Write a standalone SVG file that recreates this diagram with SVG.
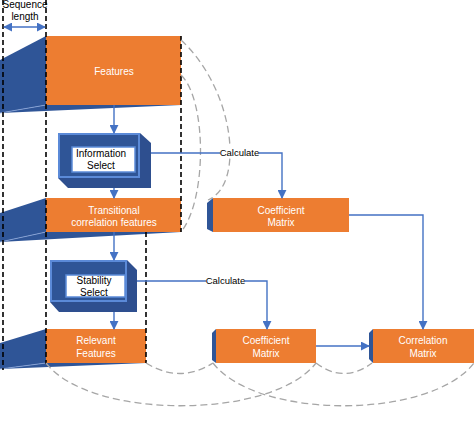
<svg xmlns="http://www.w3.org/2000/svg" width="474" height="422" viewBox="0 0 474 422">
<defs>
<style>
.box{fill:#ED7D31}
.side{fill:#2F5597}
.edge{stroke:#8FAADC;stroke-width:0.8;fill:none}
.bevel{fill:#2F5597}
.wt{fill:#fff;font-family:"Liberation Sans",Arial,sans-serif;font-size:10px;text-anchor:middle}
.bt{fill:#000;font-family:"Liberation Sans",Arial,sans-serif;font-size:10px;text-anchor:middle}
.ct{fill:#000;font-family:"Liberation Sans",Arial,sans-serif;font-size:9.5px;text-anchor:middle}
.guide{stroke:#000;stroke-width:1.6;stroke-dasharray:5 3;fill:none}
.arc{stroke:#A6A6A6;stroke-width:1.3;stroke-dasharray:7 4;fill:none}
.link{stroke:#4472C4;stroke-width:1.4;fill:none}
.frame{fill:#2E4F8F}
.front{fill:#2F5597;stroke:#5B8AD8;stroke-width:2}
.hole{fill:#fff;stroke:#5B8AD8;stroke-width:1.5}
</style>
<marker id="ah" viewBox="0 0 10 10" refX="9" refY="5" markerWidth="6" markerHeight="6" markerUnits="userSpaceOnUse" orient="auto">
<path d="M0,0 L10,5 L0,10 z" fill="#4472C4"/>
</marker>
<marker id="ah2" viewBox="0 0 10 10" refX="9" refY="5" markerWidth="9" markerHeight="9" markerUnits="userSpaceOnUse" orient="auto-start-reverse">
<path d="M0,0 L10,5 L0,10 z" fill="#4472C4"/>
</marker>
</defs>
<rect width="474" height="422" fill="#fff"/>

<g id="features">
<polygon class="side" points="0,60 46,36 46,105 0,113"/>
<polygon class="side" points="0,113 46,105 181,105"/>
<line class="edge" x1="0" y1="113" x2="46" y2="105"/>
<rect class="box" x="46" y="36" width="135" height="69"/>
<text class="wt" x="114" y="74.5">Features</text>
</g>

<g id="transitional">
<polygon class="side" points="0,213 46,198 46,232 0,242"/>
<polygon class="side" points="0,242 46,232 181,232"/>
<line class="edge" x1="0" y1="242" x2="46" y2="232"/>
<rect class="box" x="46" y="198" width="135" height="34"/>
<text class="wt" x="114" y="213.5">Transitional</text>
<text class="wt" x="114" y="226">correlation features</text>
</g>

<g id="relevant">
<polygon class="side" points="0,343 46,329 46,363 0,369"/>
<polygon class="side" points="0,369 46,363 146,363"/>
<line class="edge" x1="0" y1="369" x2="46" y2="363"/>
<rect class="box" x="46" y="329" width="100" height="34"/>
<text class="wt" x="96" y="344">Relevant</text>
<text class="wt" x="96" y="356.5">Features</text>
</g>

<g id="info-select">
<polygon class="frame" points="58,133 140,133 151,143 151,188 68,188 58,178"/>
<rect class="front" x="59" y="134" width="80" height="43"/>
<rect class="hole" x="72" y="147" width="63" height="25"/>
<text class="bt" x="101" y="157">Information</text>
<text class="bt" x="101" y="169">Select</text>
</g>

<g id="stability-select">
<polygon class="frame" points="50,260 127,260 137,270 137,312 59,312 50,302"/>
<rect class="front" x="51" y="261" width="75" height="40"/>
<rect class="hole" x="66" y="275" width="59" height="22"/>
<text class="bt" x="94" y="284">Stability</text>
<text class="bt" x="94" y="296">Select</text>
</g>

<g id="coef-top">
<polygon class="bevel" fill="#4472C4" points="207,203 213,198 213,232 207,229"/>
<rect class="box" x="213" y="198" width="136" height="34"/>
<text class="wt" x="281" y="213.5">Coefficient</text>
<text class="wt" x="281" y="226">Matrix</text>
</g>

<g id="coef-bottom">
<polygon class="bevel" points="212,333 216,329 216,363 212,360"/>
<rect class="box" x="216" y="329" width="100" height="34"/>
<text class="wt" x="266" y="344">Coefficient</text>
<text class="wt" x="266" y="356.5">Matrix</text>
</g>

<g id="correlation">
<polygon class="bevel" points="369,333 373,329 373,363 369,359"/>
<rect class="box" x="373" y="329" width="101" height="34"/>
<text class="wt" x="423" y="344">Correlation</text>
<text class="wt" x="423" y="356.5">Matrix</text>
</g>

<g id="guides">
<line class="guide" x1="3" y1="0" x2="3" y2="370"/>
<line class="guide" x1="46" y1="0" x2="46" y2="364"/>
<line class="guide" x1="181" y1="36" x2="181" y2="232"/>
<line class="guide" x1="146" y1="232" x2="146" y2="363"/>
</g>

<g id="sequence-length">
<text class="bt" x="25" y="8">Sequence</text>
<text class="bt" x="25" y="19.5">length</text>
<line class="link" x1="4" y1="27" x2="45" y2="27" marker-start="url(#ah2)" marker-end="url(#ah2)"/>
</g>

<g id="connectors">
<path class="arc" d="M181,40 C235,90 245,185 208,200"/>
<path class="arc" d="M181,75 C207,100 207,200 181,232"/>
<path class="arc" d="M146,363 Q180,384 213,363"/>
<path class="arc" d="M316,363 Q344,384 372,363"/>
<path class="arc" d="M46,363 C90,420 272,420 316,363"/>
<path class="arc" d="M213,363 C257,420 430,420 474,363"/>

<line class="link" x1="114" y1="105" x2="114" y2="133" marker-end="url(#ah2)"/>
<line class="link" x1="114" y1="188" x2="114" y2="198" marker-end="url(#ah2)"/>
<line class="link" x1="114" y1="232" x2="114" y2="260" marker-end="url(#ah2)"/>
<line class="link" x1="114" y1="312" x2="114" y2="329" marker-end="url(#ah2)"/>
<path class="link" d="M151,153 H282 V198" marker-end="url(#ah2)"/>
<path class="link" d="M137,281 H267 V329" marker-end="url(#ah2)"/>
<path class="link" d="M349,215 H423 V329" marker-end="url(#ah2)"/>
<line class="link" x1="316" y1="346" x2="369" y2="346" marker-end="url(#ah2)"/>
<rect x="220" y="147" width="39" height="11" fill="#fff"/>
<text class="ct" x="239.5" y="156">Calculate</text>
<rect x="206" y="275" width="39" height="11" fill="#fff"/>
<text class="ct" x="225.5" y="283.5">Calculate</text>
</g>
</svg>
